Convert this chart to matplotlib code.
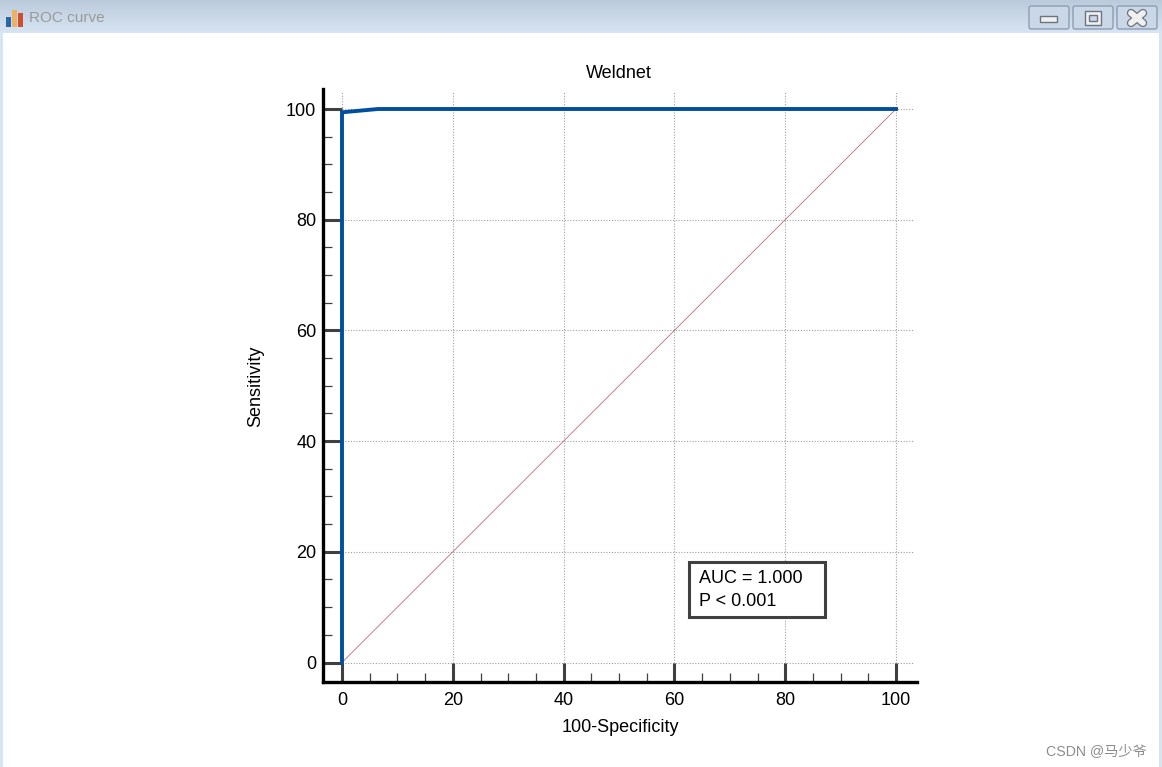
#!/usr/bin/python

import matplotlib
matplotlib.use("Agg")
import matplotlib.pyplot as plt
import matplotlib.patches as mpatches
import numpy as np

W = 1162
H = 767

plt.rcParams['font.family'] = ['Liberation Sans', 'Noto Sans CJK SC', 'DejaVu Sans']

roc_x = [0, 0, 6.5, 100]
roc_y = [0, 99.4, 100, 100]
diag_x = [0, 100]
diag_y = [0, 100]
major_ticks = [0, 20, 40, 60, 80, 100]
minor_ticks = [5, 10, 15, 25, 30, 35, 45, 50, 55, 65, 70, 75, 85, 90, 95]
title = "Weldnet"
xlabel = "100-Specificity"
ylabel = "Sensitivity"
stats = ["AUC = 1.000", "P < 0.001"]
window_title = "ROC curve"
watermark = "CSDN @马少爷"


def px_rect(x0, y0, x1, y1, **kw):
    # rectangle in image pixels, y going down
    return mpatches.Rectangle((x0, H - y1), x1 - x0, y1 - y0, **kw)


fig = plt.figure(figsize=(W / 100, H / 100), dpi=100, facecolor='white')

# window frame, drawn in pixel coordinates
bg = fig.add_axes([0, 0, 1, 1], zorder=0)
bg.set_xlim(0, W)
bg.set_ylim(0, H)
bg.axis('off')
bg.add_patch(px_rect(0, 0, 3, H, color='#d6e4f3', lw=0))
bg.add_patch(px_rect(1159, 0, W, H, color='#d6e4f3', lw=0))
grad = np.linspace(0, 1, 33).reshape(-1, 1)
cmap = matplotlib.colors.LinearSegmentedColormap.from_list('bar', ['#bccbdb', '#d6e4f3'])
bg.imshow(grad, cmap=cmap, extent=(0, W, H - 33, H), aspect='auto', zorder=1)
bg.set_xlim(0, W)
bg.set_ylim(0, H)

for x0, x1, y0, c in [(6, 11, 17, '#2a66a5'), (12, 17, 10, '#eeb063'), (18, 23, 13, '#d04e30')]:
    bg.add_patch(px_rect(x0, y0, x1, 27, color=c, lw=0, zorder=2))
bg.text(29, H - 18.5, window_title, fontsize=11, color='#9a9a9a', va='center', ha='left', zorder=2)

for x0, x1 in [(1028, 1070), (1072, 1114), (1116, 1158)]:
    bg.add_patch(mpatches.FancyBboxPatch((x0 + 1, H - 29), x1 - x0 - 2, 23,
                                         boxstyle="round,pad=0,rounding_size=2",
                                         fc='#c9d7e6', ec='#8c9eb4', lw=1, zorder=2))
bg.add_patch(px_rect(1040, 16, 1057, 22, fc='#f0f0f0', ec='#6b7480', lw=1, zorder=3))
bg.add_patch(px_rect(1085, 11, 1101, 25, fc='#f0f0f0', ec='#6b7480', lw=1, zorder=3))
bg.add_patch(px_rect(1089, 15, 1097, 21, fc='#c9d7e6', ec='#6b7480', lw=1, zorder=4))
bg.plot([1131, 1143], [H - 13, H - 23], color='#6b7480', lw=6, zorder=3, solid_capstyle='round')
bg.plot([1131, 1143], [H - 23, H - 13], color='#6b7480', lw=6, zorder=3, solid_capstyle='round')
bg.plot([1131, 1143], [H - 13, H - 23], color='#f0f0f0', lw=4.2, zorder=4, solid_capstyle='round')
bg.plot([1131, 1143], [H - 23, H - 13], color='#f0f0f0', lw=4.2, zorder=4, solid_capstyle='round')

bg.text(1147, H - 751, watermark, fontsize=10.2, color='#8c8c8c', va='center', ha='right', zorder=2)

# chart area, spines at pixel 322 and 682
ax = fig.add_axes([322.5 / W, 1 - 682 / H, (917 - 322.5) / W, (682 - 89) / H], zorder=2)
ax.patch.set_alpha(0)
ax.set_xlim((322.5 - 342) / 5.54, (917 - 342) / 5.54)
ax.set_ylim((662.5 - 682) / 5.535, (662.5 - 89) / 5.535)

ax.spines['top'].set_visible(False)
ax.spines['right'].set_visible(False)
ax.spines['left'].set_linewidth(2.4)
ax.spines['bottom'].set_linewidth(2.4)

ax.hlines(major_ticks, 0, 103.3, color='#a0a0a0', lw=0.8, linestyles=(0, (1, 1.5)), zorder=1)
ax.vlines(major_ticks, 0, 103.0, color='#a0a0a0', lw=0.8, linestyles=(0, (1, 1.5)), zorder=1)

ax.plot(diag_x, diag_y, color='#b5636a', lw=0.55, zorder=2)
ax.plot(roc_x, roc_y, color='#004f9f', lw=2.8, zorder=3, solid_joinstyle='miter')

ax.set_xticks(major_ticks)
ax.set_yticks(major_ticks)
ax.set_xticks(minor_ticks, minor=True)
ax.set_yticks(minor_ticks, minor=True)
ax.tick_params(axis='both', which='major', direction='in', length=13.5, width=2.2,
               color='#404040', labelsize=13)
ax.tick_params(axis='x', which='major', pad=7)
ax.tick_params(axis='y', which='major', pad=4.5)
ax.tick_params(axis='both', which='minor', direction='in', length=6.5, width=0.9, color='#404040')

fig.text(619 / W, 1 - 73 / H, title, fontsize=13, ha='center', va='center')
fig.text(620 / W, 1 - 727.5 / H, xlabel, fontsize=13, ha='center', va='center')
fig.text(255.5 / W, 1 - 386.5 / H, ylabel, fontsize=13, ha='center', va='center', rotation=90)

ax.add_patch(mpatches.Rectangle((62.7, 8.3), 24.5, 9.9, fc='white', ec='#404040', lw=2.2, zorder=4))
ax.text(64.5, 15.2, stats[0], fontsize=13, ha='left', va='center', zorder=5)
ax.text(64.5, 11.1, stats[1], fontsize=13, ha='left', va='center', zorder=5)

fig.savefig("out.png", dpi=100)
